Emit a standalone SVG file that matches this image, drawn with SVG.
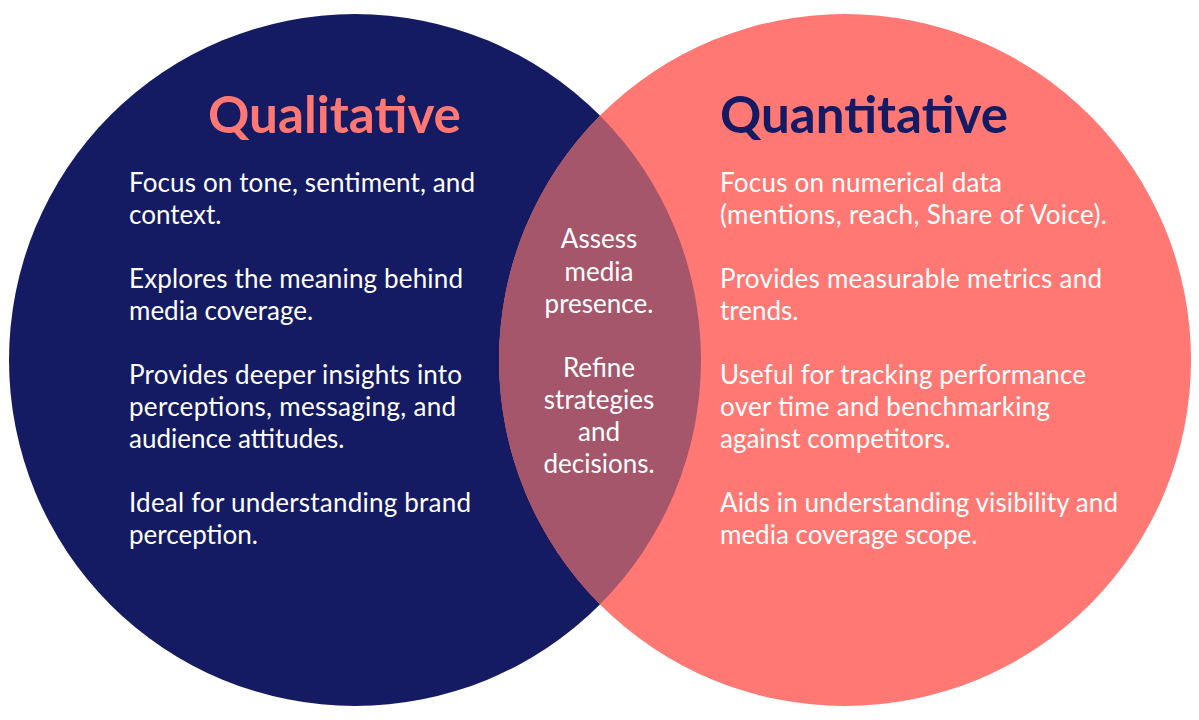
<svg xmlns="http://www.w3.org/2000/svg" width="1199" height="720" viewBox="0 0 1199 720">
  <style>
    .body { font-family: Lato, "Liberation Sans", sans-serif; font-size: 26px; fill: #ffffff; }
    .mid { font-family: Lato, "Liberation Sans", sans-serif; font-size: 26px; fill: #ffffff; text-anchor: middle; }
    .title { font-family: Lato, "Liberation Sans", sans-serif; font-size: 52px; font-weight: bold; }
  </style>
  <rect width="1199" height="720" fill="#ffffff"/>
  <g id="qualitative">
    <circle cx="355" cy="360" r="346" fill="#151b62"/>
    <text class="title" x="208" y="133" fill="#ff7873" textLength="253" lengthAdjust="spacingAndGlyphs">Qualitative</text>
    <text class="body" x="129" y="192" textLength="346">Focus on tone, sentiment, and</text>
    <text class="body" x="129" y="224">context.</text>
    <text class="body" x="129" y="288" textLength="334">Explores the meaning behind</text>
    <text class="body" x="129" y="320">media coverage.</text>
    <text class="body" x="129" y="384" textLength="333">Provides deeper insights into</text>
    <text class="body" x="129" y="416" textLength="327">perceptions, messaging, and</text>
    <text class="body" x="129" y="448">audience attitudes.</text>
    <text class="body" x="129" y="512" textLength="342">Ideal for understanding brand</text>
    <text class="body" x="129" y="544">perception.</text>
  </g>
  <g id="quantitative">
    <circle cx="845" cy="360" r="346" fill="#ff7873"/>
    <text class="title" x="720" y="133" fill="#151b62" textLength="288" lengthAdjust="spacingAndGlyphs">Quantitative</text>
    <text class="body" x="720" y="192" textLength="282">Focus on numerical data</text>
    <text class="body" x="720" y="224" textLength="387">(mentions, reach, Share of Voice).</text>
    <text class="body" x="720" y="288" textLength="382">Provides measurable metrics and</text>
    <text class="body" x="720" y="320">trends.</text>
    <text class="body" x="720" y="384" textLength="366">Useful for tracking performance</text>
    <text class="body" x="720" y="416" textLength="330">over time and benchmarking</text>
    <text class="body" x="720" y="448">against competitors.</text>
    <text class="body" x="720" y="512" textLength="398">Aids in understanding visibility and</text>
    <text class="body" x="720" y="544">media coverage scope.</text>
  </g>
  <g id="overlap">
    <path d="M600,115.7 A346,346 0 0,1 600,604.3 A346,346 0 0,1 600,115.7 Z" fill="#a5566b"/>
    <text class="mid" x="599" y="248">Assess</text>
    <text class="mid" x="599" y="281">media</text>
    <text class="mid" x="599" y="313">presence.</text>
    <text class="mid" x="599" y="377">Refine</text>
    <text class="mid" x="599" y="409">strategies</text>
    <text class="mid" x="599" y="441">and</text>
    <text class="mid" x="599" y="473">decisions.</text>
  </g>
  <g id="connectors"/>
</svg>
